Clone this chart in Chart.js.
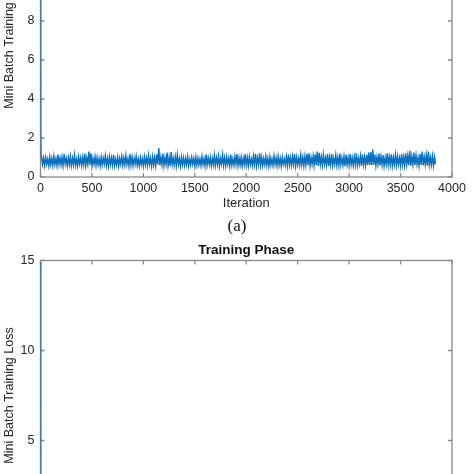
<!DOCTYPE html>
<html>
<head>
<meta charset="utf-8">
<script src="https://cdn.jsdelivr.net/npm/chart.js@4/dist/chart.umd.min.js"></script>
<style>
  html, body { margin: 0; padding: 0; background: #fff; }
  body { position: relative; width: 474px; height: 474px; overflow: hidden; }
  .plot { position: absolute; left: 0; width: 474px; height: 340px; }
  #topWrap { top: -120px; }
  #bottomWrap { top: 236px; }
  #caption { position: absolute; left: 0; width: 474px; top: 216px; text-align: center;
    font-family: 'Liberation Serif', 'DejaVu Serif', serif; font-size: 17px; color: #111; }
</style>
</head>
<body>
<div class="plot" id="topWrap"><canvas id="topChart" width="474" height="340"></canvas></div>
<div id="caption">(a)</div>
<div class="plot" id="bottomWrap"><canvas id="bottomChart" width="474" height="340"></canvas></div>
<script>
// first few iterations (steep drop of the loss)
const headIterA = [0, 3, 6];
const headLossA = [13.8, 2.5, 1.1];
const headIterB = [0, 3, 6];
const headLossB = [14.9, 2.7, 1.1];

// loss sampled every 10 iterations, from iteration 10 to 3840
const lossStep = 10;
const lossNoise = [
  1.02,0.64,0.98,0.58,1.01,0.66,0.92,0.57,1.03,0.62,0.96,0.60,1.07,0.63,0.94,0.58,1.15,0.65,0.99,0.61,
  1.02,0.59,1.18,0.66,0.95,0.57,1.00,0.64,1.06,0.58,0.97,0.62,1.12,0.60,0.93,0.56,1.04,0.67,0.98,0.58,
  1.01,0.63,1.20,0.57,0.99,0.65,1.30,0.61,1.22,0.56,0.96,0.64,1.05,0.59,1.00,0.62,0.94,0.56,1.02,0.61,
  0.97,0.66,1.09,0.58,0.95,0.55,1.03,0.63,0.98,0.60,1.14,0.57,0.92,0.62,1.01,0.56,0.96,0.65,1.05,0.59,
  0.99,0.61,1.10,0.64,0.94,0.56,1.18,0.62,1.02,0.58,0.97,0.66,1.06,0.60,0.93,0.57,1.00,0.63,0.95,0.56,
  1.03,0.62,0.98,0.59,1.11,0.65,0.96,0.55,1.04,0.61,1.00,0.58,1.16,0.64,1.48,0.60,1.02,0.63,1.20,0.57,
  0.99,0.65,1.25,0.59,1.01,0.56,1.28,0.63,0.97,0.61,1.05,0.58,1.13,0.64,0.94,0.55,1.02,0.62,0.98,0.59,
  0.96,0.63,1.04,0.57,0.92,0.61,1.00,0.65,0.95,0.55,1.01,0.60,0.97,0.62,0.93,0.58,1.05,0.64,0.94,0.56,
  1.16,0.61,0.98,0.65,1.02,0.57,0.95,0.62,1.12,0.59,0.99,0.63,1.06,0.55,0.96,0.66,1.14,0.60,1.00,0.58,
  1.03,0.64,0.97,0.56,1.15,0.62,0.94,0.59,1.05,0.65,1.18,0.58,0.98,0.61,1.01,0.55,0.96,0.63,1.17,0.60,
  0.99,0.57,1.04,0.64,0.93,0.59,1.07,0.62,1.19,0.56,0.98,0.65,1.21,0.60,1.02,0.58,0.95,0.63,1.06,0.61,
  0.97,0.55,1.03,0.62,0.94,0.59,1.09,0.64,0.98,0.57,1.05,0.61,0.96,0.55,1.01,0.65,0.93,0.60,1.04,0.58,
  1.15,0.63,0.99,0.59,1.06,0.65,1.17,0.56,1.00,0.62,0.96,0.60,1.13,0.64,1.02,0.57,1.07,0.63,1.19,0.61,
  1.22,0.58,1.00,0.64,1.08,0.60,1.16,0.62,1.30,0.57,1.24,0.63,1.03,0.59,1.14,0.65,0.99,0.61,1.18,0.56,
  1.02,0.62,1.17,0.58,0.97,0.64,1.12,0.60,1.01,0.57,1.20,0.63,0.98,0.61,1.06,0.55,1.15,0.62,1.00,0.59,
  1.18,0.64,0.99,0.58,1.05,0.62,1.22,0.60,0.96,0.65,1.09,0.57,1.16,0.63,1.03,0.59,1.14,0.61,1.25,0.62,
  1.28,0.60,1.42,0.63,1.15,0.58,1.02,0.65,1.20,0.59,1.06,0.62,1.12,0.56,0.99,0.64,1.21,0.60,1.04,0.62,
  1.16,0.58,1.01,0.63,1.13,0.60,1.07,0.65,0.98,0.57,1.18,0.62,1.03,0.59,1.22,0.64,1.09,0.61,1.35,0.58,
  1.05,0.63,1.24,0.60,1.11,0.64,1.00,0.57,1.17,0.62,1.30,0.59,1.04,0.65,1.14,0.58,1.30,0.61,1.01,0.62,
  1.08,0.58,1.03,0.64
];

const xTicks = [0, 500, 1000, 1500, 2000, 2500, 3000, 3500, 4000];
const topYMax = 14;
const bottomYMax = 15;

const lineColor = '#0b6fbb';
const axisColor = '#8a8a8a';
const textColor = '#262626';
const fontFamily = "'Liberation Sans', Arial, sans-serif";

function buildPoints(headIter, headLoss) {
  const pts = headIter.map((it, i) => ({ x: it, y: headLoss[i] }));
  lossNoise.forEach((v, i) => pts.push({ x: (i + 1) * lossStep, y: v }));
  return pts;
}

// MATLAB style box with inward ticks
const matlabBox = {
  id: 'matlabBox',
  beforeDatasetsDraw(chart) {
    const { ctx, chartArea: a, scales: { x, y } } = chart;
    ctx.save();
    ctx.strokeStyle = axisColor;
    ctx.lineWidth = 1.3;
    ctx.strokeRect(a.left, a.top, a.right - a.left, a.bottom - a.top);
    ctx.beginPath();
    x.ticks.forEach(t => {
      const px = x.getPixelForValue(t.value);
      ctx.moveTo(px, a.bottom); ctx.lineTo(px, a.bottom - 4);
      ctx.moveTo(px, a.top); ctx.lineTo(px, a.top + 4);
    });
    y.ticks.forEach(t => {
      const py = y.getPixelForValue(t.value);
      ctx.moveTo(a.left, py); ctx.lineTo(a.left + 4, py);
      ctx.moveTo(a.right, py); ctx.lineTo(a.right - 4, py);
    });
    ctx.stroke();
    ctx.restore();
  },
  afterDraw(chart, args, opts) {
    if (!opts.title) return;
    const { ctx, chartArea: a } = chart;
    ctx.save();
    ctx.fillStyle = '#111';
    ctx.font = 'bold 13.5px ' + fontFamily;
    ctx.textAlign = 'center';
    ctx.textBaseline = 'middle';
    ctx.fillText(opts.title, (a.left + a.right) / 2, a.top - 10);
    ctx.restore();
  }
};

function makeChart(id, points, yMax, yStep, padTop, xHeight, title) {
  return new Chart(document.getElementById(id), {
    type: 'line',
    data: {
      datasets: [{
        data: points,
        borderColor: lineColor,
        borderWidth: 1.4,
        pointRadius: 0,
        tension: 0,
        fill: false
      }]
    },
    options: {
      responsive: false,
      animation: false,
      layout: { padding: { top: padTop, right: 22, left: 0, bottom: 0 } },
      plugins: {
        legend: { display: false },
        tooltip: { enabled: false },
        matlabBox: { title }
      },
      scales: {
        x: {
          type: 'linear',
          min: 0,
          max: 4000,
          afterBuildTicks: s => { s.ticks = xTicks.map(v => ({ value: v })); },
          afterFit: s => { s.height = xHeight; },
          grid: { display: false, drawTicks: false },
          border: { display: false },
          ticks: { color: textColor, font: { family: fontFamily, size: 12.5 }, padding: 4, maxRotation: 0,
            callback: v => String(v) },
          title: { display: true, text: 'Iteration', color: textColor,
            font: { family: fontFamily, size: 13 }, padding: { top: 0, bottom: 9 } }
        },
        y: {
          min: 0,
          max: yMax,
          afterFit: s => { s.width = 40.5; },
          grid: { display: false, drawTicks: false },
          border: { display: false },
          ticks: { stepSize: yStep, color: textColor, font: { family: fontFamily, size: 12.5 }, padding: 6,
            callback: v => String(v) },
          title: { display: true, text: 'Mini Batch Training Loss', color: textColor,
            font: { family: fontFamily, size: 12.5 }, padding: { top: 2, bottom: 0 } }
        }
      }
    },
    plugins: [matlabBox]
  });
}

makeChart('topChart', buildPoints(headIterA, headLossA), topYMax, 2, 24, 43, null);
makeChart('bottomChart', buildPoints(headIterB, headLossB), bottomYMax, 5, 24.5, 45.5, 'Training Phase');
</script>
</body>
</html>
